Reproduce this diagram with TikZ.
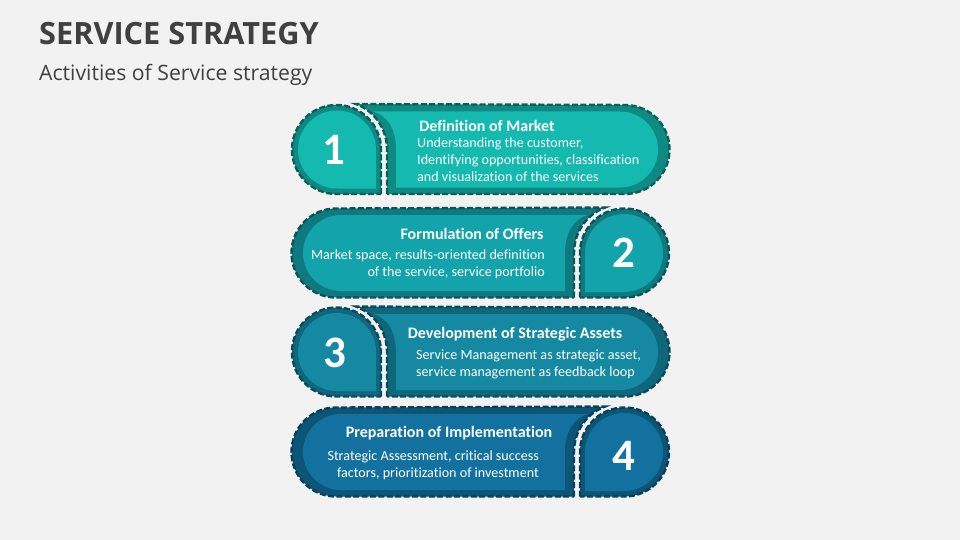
\documentclass[tikz,border=0pt]{standalone}
\usepackage{fontspec}
\setmainfont[RawFeature={-liga;-clig;-dlig}]{Carlito}
\newfontfamily\headfont{Open Sans}
\definecolor{pagegray}{HTML}{F2F2F2}
\definecolor{inka}{HTML}{404040}
\definecolor{lighta}{HTML}{14B9AF}
\definecolor{darka}{HTML}{0F8A83}
\definecolor{edgea}{HTML}{0B5F5B}
\definecolor{lightb}{HTML}{13A3AA}
\definecolor{darkb}{HTML}{0E7A80}
\definecolor{edgeb}{HTML}{0A5359}
\definecolor{lightc}{HTML}{1589A2}
\definecolor{darkc}{HTML}{0F677B}
\definecolor{edgec}{HTML}{0A4A5A}
\definecolor{lightd}{HTML}{12719F}
\definecolor{darkd}{HTML}{0C5577}
\definecolor{edged}{HTML}{083F59}
\tikzset{
  edgeline/.style={line width=2.4pt,draw=#1,dash pattern=on 6pt off 2.4pt,preaction={draw=white,solid,line width=2.4pt}},
  headline/.style={text=inka,font=\headfont\bfseries\fontsize{30.7}{36}\selectfont,anchor=west,inner sep=0pt},
  subline/.style={text=inka,font=\headfont\fontsize{21.2}{25}\selectfont,anchor=west,inner sep=0pt},
  rowtitle/.style={text=white,font=\bfseries\fontsize{16}{19}\selectfont,inner sep=0pt},
  rowtext/.style={text=white,font=\fontsize{14.1}{17}\selectfont,inner sep=0pt},
  rownum/.style={text=white,font=\bfseries\fontsize{45}{48}\selectfont,inner sep=0pt}
}
% one band: body and number bubble, number on the left
\newcommand{\bandshape}[3]{
  \path[fill=#2,edgeline=#3] (387,-44.5) -- (387,0) arc (0:30:50) arc (30:70:46.5) -- (625,44.5) arc (90:-90:44.5) -- cycle;
  \fill[#1] (396,-38) -- (396,0) .. controls (396,20) and (388,34) .. (373,38) -- (620,38) arc (90:-90:38) -- cycle;
  \path[fill=#2,edgeline=#3] (381,-44.5) -- (381,0) arc (0:180:44.5) arc (180:270:44.5) -- cycle;
  \fill[#1] (376,-39) -- (376,0) arc (0:180:39) arc (180:270:39) -- cycle;
}
\begin{document}
\begin{tikzpicture}[x=1pt,y=1pt]
  \fill[pagegray] (0,0) rectangle (960,-540);
  \node[headline] (title) at (39,-34) {SERVICE STRATEGY};
  \node[subline] (subtitle) at (39,-75) {Activities of Service strategy};

  \begin{scope}[shift={(0,-149.5)}]
    \bandshape{lighta}{darka}{edgea}
  \end{scope}
  \begin{scope}[shift={(961,-253)},xscale=-1]
    \bandshape{lightb}{darkb}{edgeb}
  \end{scope}
  \begin{scope}[shift={(0,-352)}]
    \bandshape{lightc}{darkc}{edgec}
  \end{scope}
  \begin{scope}[shift={(961,-452)},xscale=-1]
    \bandshape{lightd}{darkd}{edged}
  \end{scope}

  \node[rownum] (num1) at (334,-150) {1};
  \node[rownum] (num2) at (624,-253) {2};
  \node[rownum] (num3) at (335,-353) {3};
  \node[rownum] (num4) at (624,-456) {4};

  \node[rowtitle] (head1) at (487,-125.5) {Definition of Market};
  \node[rowtitle] (head2) at (472,-234) {Formulation of Offers};
  \node[rowtitle] (head3) at (515,-334) {Development of Strategic Assets};
  \node[rowtitle] (head4) at (449,-433) {Preparation of Implementation};

  \node[rowtext,anchor=west,align=left] (text1) at (417,-159.7) {Understanding the customer,\\Identifying opportunities, classification\\and visualization of the services};
  \node[rowtext,anchor=east,align=right] (text2) at (545,-264.5) {Market space, results-oriented definition\\of the service, service portfolio};
  \node[rowtext,anchor=west,align=left] (text3) at (416,-364.8) {Service Management as strategic asset,\\service management as feedback loop};
  \node[rowtext,anchor=east,align=right] (text4) at (539,-464.8) {Strategic Assessment, critical success\\factors, prioritization of investment};
\end{tikzpicture}
\end{document}
